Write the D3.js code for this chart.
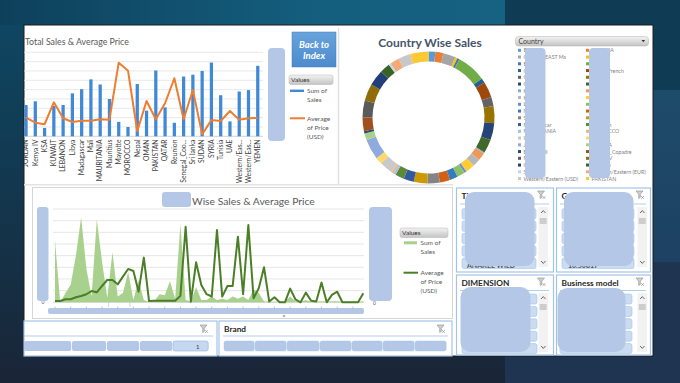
<!DOCTYPE html>
<html><head><meta charset="utf-8">
<script src="https://cdn.jsdelivr.net/npm/d3@7"></script>
<style>body{margin:0;background:#14344a;overflow:hidden}svg{display:block;font-family:Lato,"Open Sans",sans-serif}</style>
</head><body><svg id="chart"></svg>
<script>
// ---------------- DATA ----------------
const barCountries = ["JORDAN","Kenya IV","KSA","KUWAIT","LEBANON","Libya","Madagascar","Mali","MAURITANIA","Mauritius","Mayotte","MOROCCO","Nepal","OMAN","PAKISTAN","QATAR","Reunion","Senegal_Coo...","Sri lanka","SUDAN","SYRIA","Tunisia","UAE","Western/Eas...","Western/Eas...","YEMEN"];
const barSales = [33500,37500,9000,32500,33500,46000,50500,61000,55500,40000,15500,10000,56000,27500,70500,31000,14500,64000,66000,70000,79000,44000,16000,48000,49500,75500];
const barPrice = [20,14.6,12.9,36.4,19.3,15.3,16.7,16.7,18.2,17.8,78.9,70.3,5.4,37.8,18.2,35.4,62.2,18.2,49.6,2.1,17.5,16.4,27.1,17.8,19.3,19.6];
const barGridTicks = [0,10000,20000,30000,40000,50000,60000,70000,80000,90000];

const donutCountries = ["BENIN","ALBANIA","CENTRE EAST Ms","CHAD","EGYPT","IRAQ","GABON","Congo French","GHANA","MALI","GUINEA","TOGO","KENYA","Israel","KSA","QATAR","LIBYA","OMAN","NIGER","NEPAL","SUDAN","SYRIA","Madagascar","Lebanon","MAURITANIA","MOROCCO","UAE","YEMEN","JORDAN","TUNISIA","BURUNDI","Senegal_Copadre","Mayotte","Kenya IV","CONGO","Reunion","Sri lanka","Western/Eastern (EUR)","Western/Eastern (USD)","PAKISTAN"];
const donutSales = [6,7,11,2,2,26,4,14,8,15,15,12,1,7,7,8,2,7,7,9,11,12,9,8,2,2,12,6,18,6,2,12,15,15,14,9,2,8,11,16];
const donutColors = ["#5b9bd5","#ed7d31","#a5a5a5","#ffc000","#4472c4","#70ad47",
  "#255e91","#9e480e","#636363","#997300","#264478","#43682b",
  "#7cafdd","#f1975a","#b7b7b7","#ffcd33","#698ed0","#8cc168",
  "#327dc2","#d26012","#848484","#cc9a00","#335aa1","#5a8a39",
  "#9dc3e6","#f4b183","#c9c9c9","#ffd966","#8faadc","#a9d18e",
  "#1f4e79","#a0501c","#5a5a5a","#8f6c08","#233f78","#3c6327",
  "#bdd7ee","#f6a877","#c8c8c8","#fcc934"];

const trendSales = [5.3,0,0.8,1.5,4.0,7.3,2.9,0.5,7.1,3.5,0.4,4.3,0.5,0.8,2.6,0.2,1.9,0.2,0,0.1,0.7,0.6,1.8,0.3,6.7,0.2,0.1,1.3,0.2,0.2,0.5,0.2,0.3,0.2,0.5,0.3,0.5,0.2,1.1,0.8,0.1,0.05,0.05,0.05,0.05,0.5,0.1,0.05,0.2,0.05,0.05,0.1,0.05,0.1,0.1,0.05,0.05,0.05,0.05,0.1];
const trendPrice = [0.11,0.11,0.26,0.26,0.43,0.54,0.69,0.97,0.86,1.4,1.91,1.91,1.54,2.2,2.86,2.68,0.91,3.83,0.11,0.14,0.14,0.14,0.14,0.14,0.55,6.48,0.05,3.43,1.48,0.7,0.5,6.2,0.49,1.4,1.4,5.63,0.69,6.63,0.34,1.2,3.0,0.06,0.43,0,0,1.17,0.26,0,0.83,0.14,0.06,1.69,0,0.63,0.91,0,0,0,0,0.77];
const trendTicks = [0,1,2,3,4,5,6,7,8];

// ---------------- SETUP ----------------
const W=680,H=383;
const svg=d3.select("#chart").attr("width",W).attr("height",H);
const defs=svg.append("defs");
function grad(id,x2,y2,stops){const g=defs.append("linearGradient").attr("id",id).attr("x1",0).attr("y1",0).attr("x2",x2).attr("y2",y2);stops.forEach(([o,c])=>g.append("stop").attr("offset",o).attr("stop-color",c));}
grad("bgV",0,1,[[0,"#0f4864"],[0.3,"#103e57"],[1,"#1a2537"]]);
grad("bgTop",1,0,[[0,"#0d405b"],[0.6,"#145d7d"],[1,"#166282"]]);
grad("rightMid",0,1,[[0,"#1f4b6b"],[1,"#1d4162"]]);
grad("btnGray",0,1,[[0,"#f3f3f3"],[1,"#c4c4c4"]]);
grad("btnBlue",0,1,[[0,"#68a3dc"],[1,"#4c8bcd"]]);

svg.append("rect").attr("width",W).attr("height",H).attr("fill","url(#bgV)");
svg.append("rect").attr("width",505).attr("height",25).attr("fill","url(#bgTop)");
svg.append("rect").attr("x",505).attr("width",175).attr("height",90).attr("fill","#0f3c54");
svg.append("rect").attr("x",505).attr("y",90).attr("width",175).attr("height",172).attr("fill","url(#rightMid)");
svg.append("rect").attr("x",505).attr("y",262).attr("width",175).attr("height",121).attr("fill","#1e3450");

svg.append("rect").attr("x",24).attr("y",25).attr("width",629).attr("height",331).attr("fill","#fff").attr("stroke","#1c1c1c").attr("stroke-width",1);
svg.append("line").attr("x1",338.5).attr("x2",338.5).attr("y1",28).attr("y2",184).attr("stroke","#e0e0e0").attr("stroke-width",1.5);
svg.append("line").attr("x1",24).attr("x2",453).attr("y1",184.8).attr("y2",184.8).attr("stroke","#e3e3e3").attr("stroke-width",1.5);

const BLUR="#b4c7e7";
const txt=(g,x,y,s,size,fill,extra)=>{const t=g.append("text").attr("x",x).attr("y",y).text(s).attr("font-size",size).attr("fill",fill);if(extra)Object.entries(extra).forEach(([k,v])=>t.attr(k,v));return t;};

// ---------------- TOP LEFT: bar + line ----------------
defs.append("clipPath").attr("id","clipL").append("rect").attr("x",24).attr("y",26).attr("width",314).attr("height",158);
const gL=svg.append("g").attr("clip-path","url(#clipL)");
const idx=d3.range(barCountries.length);
const xB=d3.scaleBand().domain(idx).range([21.4,262.4]);
const cx=i=>xB(i)+xB.bandwidth()/2;
const yB=d3.scaleLinear().domain([0,90000]).range([136.3,52.3]);
const yP=d3.scaleLinear().domain([0,90]).range([136.3,52.3]);
gL.selectAll("line.g").data(barGridTicks).join("line").attr("x1",22).attr("x2",263).attr("y1",d=>yB(d)).attr("y2",d=>yB(d)).attr("stroke",d=>d===0?"#c8c8c8":"#e2e2e2").attr("stroke-width",0.8);
const bw=xB.bandwidth()*0.35;
gL.selectAll("rect.b").data(barSales).join("rect").attr("x",(d,i)=>cx(i)-bw/2).attr("width",bw).attr("y",d=>yB(d)).attr("height",d=>yB(0)-yB(d)).attr("fill","#4089d7");
gL.append("path").datum(barPrice).attr("fill","none").attr("stroke","#ed7d31").attr("stroke-width",2).attr("stroke-linejoin","round")
  .attr("d",d3.line().x((d,i)=>cx(i)).y(d=>yP(d)));
gL.selectAll("text.xl").data(barCountries).join("text").attr("font-size",6.8).attr("fill","#404040").attr("text-anchor","end").text(d=>d)
  .attr("transform",(d,i)=>`translate(${cx(i)+2.3},139.5) rotate(-90)`);
txt(gL,25,45,"Total Sales & Average Price",8.8,"#595959");
svg.append("rect").attr("x",268).attr("y",48).attr("width",17).attr("height",93).attr("rx",4).attr("fill",BLUR);
svg.append("rect").attr("x",292).attr("y",32).attr("width",44).attr("height",35).attr("fill","url(#btnBlue)").attr("stroke","#3f7cbf").attr("stroke-width",0.5);
txt(svg,314,47.5,"Back to",9.5,"#fff",{"text-anchor":"middle","font-weight":"bold","font-style":"italic"});
txt(svg,314,59,"Index",9.5,"#fff",{"text-anchor":"middle","font-weight":"bold","font-style":"italic"});
function valuesBtn(x,y,w){svg.append("rect").attr("x",x).attr("y",y).attr("width",w).attr("height",9.5).attr("rx",2).attr("fill","url(#btnGray)").attr("stroke","#b5b5b5").attr("stroke-width",0.5);txt(svg,x+2,y+7.2,"Values",6.5,"#333");}
valuesBtn(289,75,44);
svg.append("rect").attr("x",290).attr("y",89.6).attr("width",14).attr("height",2.4).attr("fill","#4089d7");
txt(svg,307,93,"Sum of",6.5,"#595959");txt(svg,307,102,"Sales",6.5,"#595959");
svg.append("line").attr("x1",290).attr("x2",305).attr("y1",118.3).attr("y2",118.3).attr("stroke","#ed7d31").attr("stroke-width",2);
txt(svg,307,120.5,"Average",6.5,"#595959");txt(svg,307,129.5,"of Price",6.5,"#595959");txt(svg,307,138.5,"(USD)",6.5,"#595959");

// ---------------- TOP RIGHT: donut ----------------
txt(svg,430,47,"Country Wise Sales",12,"#44546a",{"text-anchor":"middle","font-weight":"bold"});
const pie=d3.pie().sort(null).value(d=>d);
const arc=d3.arc().innerRadius(56).outerRadius(66);
svg.append("g").attr("transform","translate(428.5,117.5)").selectAll("path").data(pie(donutSales)).join("path").attr("d",arc).attr("fill",(d,i)=>donutColors[i]);
svg.append("rect").attr("x",515.5).attr("y",36.5).attr("width",133).attr("height",9.5).attr("rx",3).attr("fill","url(#btnGray)").attr("stroke","#b0b0b0").attr("stroke-width",0.5);
txt(svg,518.5,44,"Country",7,"#404040");
svg.append("path").attr("d","M641.5,40h3.6l-1.8,2.2z").attr("fill","#333");
const gLeg=svg.append("g");
donutCountries.forEach((c,i)=>{const col=i%2,row=Math.floor(i/2);const x=col?587.5:519.5;const y=50.3+row*6.75;
  gLeg.append("rect").attr("x",x-1.5).attr("y",y-1.5).attr("width",3).attr("height",3).attr("fill",donutColors[i]);
  txt(gLeg,x+4,y+2,c,5.3,"#7f7f7f");});
svg.append("rect").attr("x",525).attr("y",48).attr("width",20.5).attr("height",130).attr("rx",4).attr("fill",BLUR);
svg.append("rect").attr("x",589).attr("y",48).attr("width",21).attr("height",130).attr("rx",4).attr("fill",BLUR);

// ---------------- MIDDLE: area + line ----------------
svg.append("rect").attr("x",32.5).attr("y",187.5).attr("width",420).attr("height",131).attr("fill","#fff").attr("stroke","#d6d6d6").attr("stroke-width",1);
const xT=d3.scalePoint().domain(d3.range(trendSales.length)).range([55,363.3]);
const yT=d3.scaleLinear().domain([0,8]).range([302.3,209]);
svg.selectAll("line.tg").data(trendTicks).join("line").attr("x1",53).attr("x2",364).attr("y1",d=>yT(d)).attr("y2",d=>yT(d)).attr("stroke",d=>d===0?"#c8c8c8":"#e0e0e0").attr("stroke-width",0.8);
svg.append("path").datum(trendSales).attr("fill","#a9d18e").attr("d",d3.area().x((d,i)=>xT(i)).y0(yT(0)).y1(d=>yT(d)));
svg.append("path").datum(trendPrice).attr("fill","none").attr("stroke","#4a7f27").attr("stroke-width",2).attr("stroke-linejoin","round").attr("d",d3.line().x((d,i)=>xT(i)).y(d=>yT(d)));
svg.selectAll("text.tl").data(trendTicks).join("text").attr("x",43).attr("y",d=>yT(d)+2).attr("text-anchor","middle").attr("font-size",5).attr("fill","#595959").text(d=>d);
svg.append("rect").attr("x",37).attr("y",207).attr("width",11.5).attr("height",94).attr("rx",3).attr("fill",BLUR);
svg.append("rect").attr("x",369).attr("y",207).attr("width",23).attr("height",94).attr("rx",4).attr("fill",BLUR);
txt(svg,373,305,"0",5,"#595959");
svg.append("rect").attr("x",48).attr("y",308).attr("width",316).attr("height",6).attr("rx",2).attr("fill",BLUR);
svg.selectAll("line.tk").data(d3.range(0,trendSales.length,3)).join("line").attr("x1",d=>xT(d)).attr("x2",d=>xT(d)).attr("y1",306.5).attr("y2",308.5).attr("stroke","#a0a0a0").attr("stroke-width",0.6);
[108.5,130].forEach(x=>svg.append("line").attr("x1",x).attr("x2",x).attr("y1",302.5).attr("y2",307).attr("stroke","#bbb").attr("stroke-width",0.6));
svg.append("path").attr("d","M282.5,315.5h3l-1.5,1.8z").attr("fill","#777");
svg.append("rect").attr("x",162).attr("y",192).attr("width",29).attr("height",15).attr("rx",3).attr("fill",BLUR);
txt(svg,192,204.5,"Wise Sales & Average Price",10.3,"#595959");
valuesBtn(400,228,48);
svg.append("rect").attr("x",404).attr("y",241.3).attr("width",13).attr("height",3).attr("fill","#a9d18e");
txt(svg,420.5,245,"Sum of",6.5,"#595959");txt(svg,420.5,254,"Sales",6.5,"#595959");
svg.append("line").attr("x1",403.5).attr("x2",418).attr("y1",272.7).attr("y2",272.7).attr("stroke","#4a7f27").attr("stroke-width",2);
txt(svg,420.5,275,"Average",6.5,"#595959");txt(svg,420.5,284,"of Price",6.5,"#595959");txt(svg,420.5,293,"(USD)",6.5,"#595959");

// ---------------- SLICERS ----------------
const SB="#a4c4e6";
function filterIcon(x,y){svg.append("path").attr("d",`M${x-4},${y-4}h7l-2.7,3.2v3.3l-1.6,0.9v-4.2z`).attr("fill","#d0d0d0").attr("stroke","#8c8c8c").attr("stroke-width",0.6);
  svg.append("path").attr("d",`M${x+1.2},${y+1.2}l2.6,2.6M${x+3.8},${y+1.2}l-2.6,2.6`).attr("stroke","#8c8c8c").attr("stroke-width",0.7);}
function scrollbar(x,y,h){svg.append("rect").attr("x",x).attr("y",y).attr("width",9.5).attr("height",h).attr("fill","#f2f2f2");
  svg.append("path").attr("d",`M${x+2.6},${y+6}l2.2,-2.4l2.2,2.4`).attr("fill","none").attr("stroke","#444").attr("stroke-width",0.8);
  svg.append("rect").attr("x",x+1.2).attr("y",y+11).attr("width",7).attr("height",6).attr("fill","#cdcdcd");
  svg.append("path").attr("d",`M${x+2.6},${y+h-6}l2.2,2.4l2.2,-2.4`).attr("fill","none").attr("stroke","#444").attr("stroke-width",0.8);}
function items(x,y0,w,n,step,h){for(let k=0;k<n;k++)svg.append("rect").attr("x",x).attr("y",y0+k*step).attr("width",w).attr("height",h).attr("rx",2).attr("fill","#c9dcf2").attr("stroke","#9dc3e6").attr("stroke-width",0.6);}
function box(x,y,w,h,title,fx,fy){svg.append("rect").attr("x",x).attr("y",y).attr("width",w).attr("height",h).attr("fill","#fff").attr("stroke",SB).attr("stroke-width",1.2);
  if(title)txt(svg,x+5,y+11,title,8.3,"#262626",{"font-weight":"bold"});
  filterIcon(fx,fy);}
box(456.5,188,97,84,"Ti",541.5,195);
svg.append("line").attr("x1",460).attr("x2",549).attr("y1",204).attr("y2",204).attr("stroke","#9dc3e6").attr("stroke-width",0.8);
items(462,208.5,74,5,12.4,10.5);
txt(svg,467,267.5,"ANAKEE WILD",7,"#595959",{"font-weight":"bold"});
scrollbar(538.5,207,60);
svg.append("rect").attr("x",465).attr("y",192).attr("width",69.5).attr("height",74).attr("rx",9).attr("fill",BLUR);
box(556.5,188,94,84,"G",640,195);
svg.append("line").attr("x1",560).attr("x2",646).attr("y1",204).attr("y2",204).attr("stroke","#9dc3e6").attr("stroke-width",0.8);
items(562,208.5,72,5,12.4,10.5);
txt(svg,568,267.5,"10.50817",7,"#595959",{"font-weight":"bold"});
scrollbar(637.5,207,60);
svg.append("rect").attr("x",564).attr("y",192).attr("width",69.5).attr("height",74).attr("rx",9).attr("fill",BLUR);
box(456.5,275,97,80,"DIMENSION",541.5,282);
svg.append("line").attr("x1",460).attr("x2",549).attr("y1",290.5).attr("y2",290.5).attr("stroke","#9dc3e6").attr("stroke-width",0.8);
items(462,294,75,5,12.4,10);
scrollbar(538.5,293,59);
svg.append("rect").attr("x",460.5).attr("y",287).attr("width",70).attr("height",65).attr("rx",10).attr("fill",BLUR);
box(556.5,275,94,80,"Business model",640,282);
svg.append("line").attr("x1",560).attr("x2",646).attr("y1",290.5).attr("y2",290.5).attr("stroke","#9dc3e6").attr("stroke-width",0.8);
items(560,294,72,5,12.4,10);
scrollbar(637.5,293,59);
svg.append("rect").attr("x",557.5).attr("y",288).attr("width",68).attr("height",64).attr("rx",10).attr("fill",BLUR);
box(24,321,193,35,"",204,329);
svg.append("line").attr("x1",24).attr("x2",213).attr("y1",336).attr("y2",336).attr("stroke","#9dc3e6").attr("stroke-width",0.8);
[[24,72],[72,107],[107,140],[140,173],[173,209]].forEach(([a,b],k)=>svg.append("rect").attr("x",a).attr("y",341).attr("width",b-a-0.8).attr("height",10).attr("rx",2).attr("fill",k===4?"#c5d8f0":BLUR).attr("stroke",k===4?"#8fb5de":"none").attr("stroke-width",0.6));
txt(svg,196,349,"1",6,"#333");
box(219,321,233,35,"Brand",441,329);
svg.append("line").attr("x1",223).attr("x2",448).attr("y1",336).attr("y2",336).attr("stroke","#9dc3e6").attr("stroke-width",0.8);
const brandCuts=[224,255,287,320,352,383,415,447];
for(let k=0;k<brandCuts.length-1;k++)svg.append("rect").attr("x",brandCuts[k]).attr("y",341).attr("width",brandCuts[k+1]-brandCuts[k]-0.8).attr("height",10).attr("rx",2).attr("fill",BLUR).attr("stroke","#9dc3e6").attr("stroke-width",0.4);
</script></body></html>
